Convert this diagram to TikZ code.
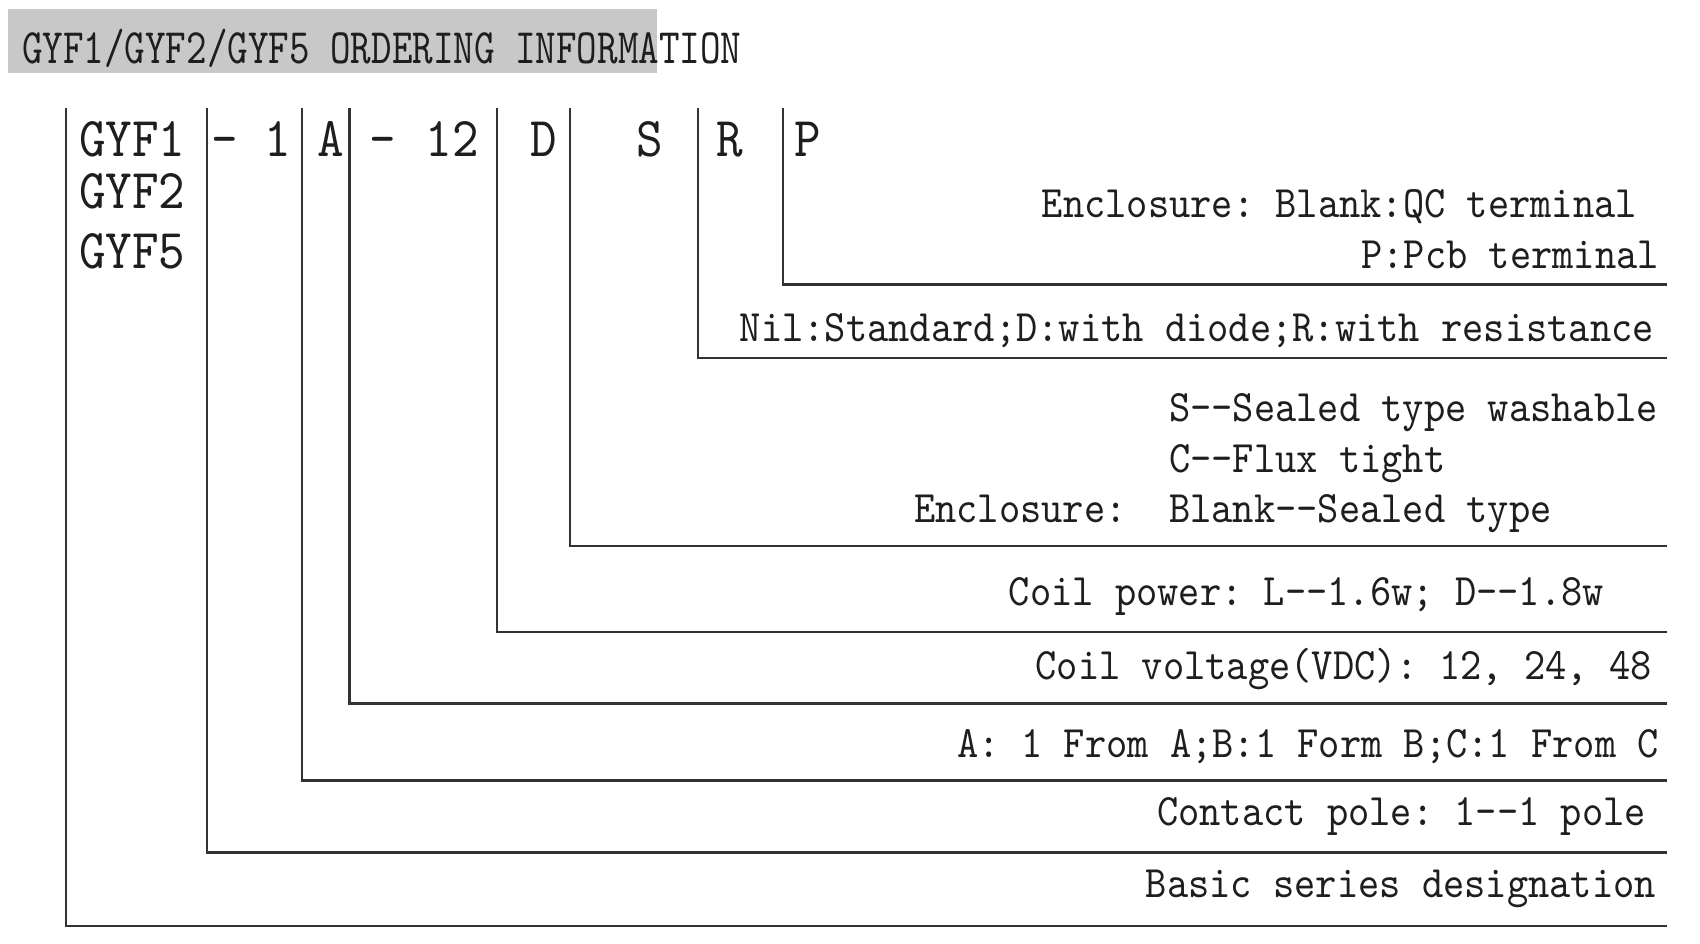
\documentclass[tikz,border=0pt]{standalone}
\usepackage{fontspec}
\setmonofont{lmmono10-regular}[Extension=.otf,FakeStretch=0.9]
\newfontfamily\titlefont{lmmono10-regular}[Extension=.otf,FakeStretch=0.79]
\definecolor{boxgray}{RGB}{200,200,200}
\definecolor{ink}{RGB}{30,30,30}
\begin{document}
\begin{tikzpicture}[line width=0.6pt,color=ink,
	rule/.style={draw=black!80},
	code/.style={font=\ttfamily\fontsize{16}{18}\selectfont,inner sep=0pt,anchor=base},
	desc/.style={font=\ttfamily\fontsize{12.8}{15}\selectfont,inner sep=0pt,anchor=base east},
	descl/.style={desc,anchor=base west}]
		\useasboundingbox (0,0) rectangle (17,-9.44);
		\fill[boxgray] (0.08,-0.09) rectangle (6.57,-0.73);
		\node[inner sep=0pt,anchor=base west,font=\titlefont\fontsize{14.1}{16}\selectfont] (title) at (0.21,-0.63) {GYF1/GYF2/GYF5 ORDERING INFORMATION};
		% code row
		\node[code,anchor=base west] (gyfone) at (0.78,-1.56) {GYF1};
		\node[code,anchor=base west] (gyftwo) at (0.78,-2.08) {GYF2};
		\node[code,anchor=base west] (gyffive) at (0.78,-2.68) {GYF5};
		\node[code] (dashone) at (2.25,-1.56) {—};
		\node[code] (pole) at (2.78,-1.56) {1};
		\node[code] (form) at (3.31,-1.56) {A};
		\node[code] (dashtwo) at (3.83,-1.56) {—};
		\node[code] (volt) at (4.52,-1.56) {12};
		\node[code] (power) at (5.44,-1.56) {D};
		\node[code] (encl) at (6.50,-1.56) {S};
		\node[code] (diode) at (7.30,-1.56) {R};
		\node[code] (term) at (8.08,-1.56) {P};
		% brackets
		\foreach \x/\y [count=\i] in {0.66/9.26,2.07/8.525,3.02/7.805,3.495/7.035,4.97/6.32,5.70/5.46,6.98/3.58,7.83/2.845}
		{
		\coordinate (top\i) at (\x,-1.08);
		\coordinate (end\i) at (16.67,-\y);
		\draw[rule] (top\i) |- (end\i);
		}
		% descriptions
		\node[desc] (termqc) at (16.38,-2.17) {Enclosure: Blank:QC terminal};
		\node[desc] (termpcb) at (16.60,-2.68) {P:Pcb terminal};
		\node[desc] (diodetxt) at (16.55,-3.41) {Nil:Standard;D:with diode;R:with resistance};
		\node[descl] (enclwash) at (11.68,-4.21) {S--Sealed type washable};
		\node[descl] (enclflux) at (11.68,-4.72) {C--Flux tight};
		\node[descl] (enclblank) at (11.68,-5.22) {Blank--Sealed type};
		\node[descl] (encltxt) at (9.13,-5.22) {Enclosure:};
		\node[desc] (powertxt) at (16.05,-6.05) {Coil power: L--1.6w; D--1.8w};
		\node[desc] (volttxt) at (16.53,-6.79) {Coil voltage(VDC): 12, 24, 48};
		\node[desc] (formtxt) at (16.60,-7.57) {A: 1 From A;B:1 Form B;C:1 From C};
		\node[desc] (poletxt) at (16.47,-8.25) {Contact pole: 1--1 pole};
		\node[desc] (gyftxt) at (16.57,-8.97) {Basic series designation};
		\end{tikzpicture}
\end{document}
